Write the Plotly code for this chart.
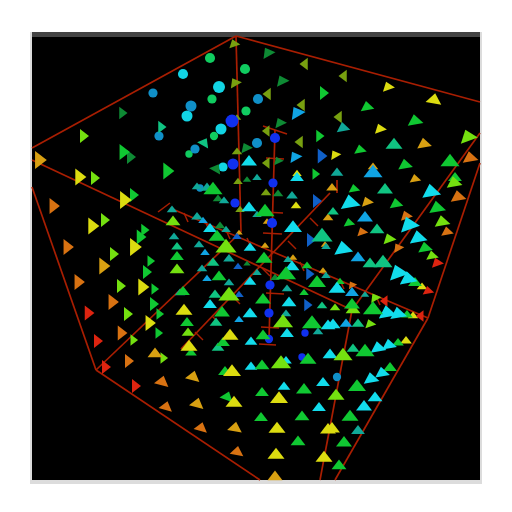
import plotly.graph_objects as go

# Marks: (x, y, size[, heading]) grouped by hue
red = [(88,313,14,90),(97,341,13,90),(105,367,13,90),(135,386,13,90),(437,263,12,-20),(428,291,11,-10),(385,301,11,-90),(421,316,11,-90)]
orange = [(53,206,15,90),(67,247,15,90),(78,282,15,90),(112,302,15,90),(121,333,14,90),(128,361,13,90),(162,382,14,15),(166,407,13,15),(201,428,13,15),(237,452,13,10),(470,158,15,-10),(458,197,15,-10),(406,216,12,-20),(447,232,12,-10),(362,232,11,-20),(398,248,11,-30),(352,285,9,-30)]
amber = [(39,160,17,90),(103,266,16,90),(193,377,14,15),(197,404,14,15),(155,354,14,0),(235,428,14,10),(424,144,14,-10),(373,167,10,0),(415,179,11,-10),(332,188,11),(367,202,12,-20),(293,258,8),(323,271,8),(325,245,8),(239,233,7),(267,222,8),(275,477,14),(265,246,8),(328,218,10)]
yellow = [(79,177,16,90),(92,226,16,90),(134,247,17,90),(142,287,16,90),(149,323,15,90),(189,347,16),(184,311,16),(232,372,17),(234,403,16),(279,399,17),(277,429,16),(276,455,16),(324,458,16),(328,430,15),(332,429,15),(434,100,15,10),(388,87,12,-20),(380,129,12,-20),(335,155,11,-30),(297,174,9),(296,206,10),(124,200,17,90),(230,336,16),(422,287,10),(413,316,10),(406,341,11)]
lime = [(83,136,13,90),(94,178,13,90),(104,220,13,90),(113,254,13,90),(120,286,13,90),(127,314,13,90),(133,340,11,90),(163,358,11,90),(468,137,17,-20),(173,222,14),(177,270,14),(226,248,20),(229,296,20),(281,364,19),(283,323,19),(343,356,18),(336,396,16),(442,222,15,-10),(432,256,12,-10),(454,183,15,-10),(389,239,13,-20),(375,298,11,-30),(353,310,14),(370,324,11,-20),(335,308,10),(188,333,12)]
green = [(123,152,15,90),(167,171,16,90),(133,195,13,90),(140,237,14,90),(144,230,12,90),(146,272,13,90),(150,261,11,90),(153,304,13,90),(154,289,11,90),(159,314,11,90),(158,333,11,90),(177,257,13),(183,292,13),(187,323,13),(191,353,11),(217,237,16),(219,277,14),(222,313,15),(213,190,18),(223,343,13),(225,372,13),(227,397,13,20),(263,336,14),(262,366,14),(262,393,13),(261,418,13),(304,293,9),(302,417,14),(298,442,14),(308,360,16),(304,390,15),(312,324,19),(286,275,19),(317,283,17),(264,259,16),(263,300,15),(265,212,18),(307,266,10),(319,136,12,90),(323,93,13,90),(367,107,13,-10),(415,121,15,-10),(360,150,12,-10),(405,165,14,-10),(450,162,18),(455,178,13),(354,189,11,-10),(396,204,13,-10),(437,208,16,-10),(349,223,11,-10),(425,248,14,-10),(415,283,13),(352,305,15),(373,310,19),(407,315,11),(398,343,11),(365,352,18),(390,368,13),(357,387,17),(350,417,16),(344,443,15),(339,466,14),(315,174,11,90),(340,282,9)]
deep_green = [(122,113,12,90),(130,157,13,90),(268,53,13,-30),(282,81,13,-25),(280,123,12,-25),(246,148,12,-25),(278,161,10,-25),(216,169,12,30),(218,199,10),(278,194,10),(220,226,10),(275,278,9),(247,180,8),(247,264,7)]
olive = [(344,76,12,-90),(305,64,12,-90),(339,117,12,-90),(268,94,12,-90),(302,105,12,-90),(300,142,12,-90),(267,131,11,-90),(267,163,11,-90),(237,152,10),(240,210,9),(238,182,9),(266,193,10),(237,118,8),(235,83,12,-30),(234,44,11,-20)]
teal_green = [(161,127,12,90),(204,143,12,30),(394,145,16),(385,190,15),(377,230,14),(370,264,14),(383,263,18),(353,349,12),(213,263,12),(215,295,12),(216,323,12),(218,348,12),(177,247,11),(358,324,12),(322,306,10),(333,212,11),(322,237,20)]
teal = [(172,210,10),(174,237,10),(180,293,10),(197,187,10),(207,188,12),(197,217,11),(199,245,10),(202,269,10),(229,259,11),(229,283,10),(226,230,9),(224,201,10),(257,178,9),(257,215,9),(257,273,9),(343,128,13,-10),(337,173,12,0),(292,196,11),(288,260,9),(286,314,10),(287,289,10),(326,276,9),(318,332,10),(365,295,8),(358,431,13),(326,247,9)]
cyan = [(249,162,15),(293,228,17),(249,208,14),(210,229,13),(250,248,12),(210,305,13),(250,282,12),(250,314,14),(297,178,13),(292,267,14),(289,303,14),(328,326,14),(287,334,13),(251,342,12),(251,367,12),(286,361,11),(284,387,12),(323,383,13),(319,408,13),(330,355,14),(350,203,19,-10),(343,249,18,-10),(409,225,19,-20),(418,238,17,-10),(398,273,19,-20),(408,279,17,-10),(431,192,18,-10),(337,289,16),(387,313,17,-10),(398,314,16,-10),(389,345,14,-10),(378,348,15,-10),(382,373,14,-10),(371,379,15,-10),(375,398,14),(364,407,15),(333,325,14)]
sky = [(373,173,18),(358,258,14),(365,218,15),(346,324,12),(352,293,13),(297,113,15,-30),(295,157,13,-30),(207,279,9),(239,320,9),(205,253,9),(203,221,9)]
blue = [(321,156,14,90),(316,201,13,90),(310,240,13,90),(309,274,12,90),(307,305,12,90),(237,237,9),(238,267,9),(239,295,9)]
round_cyan = [(183,74,11),(219,87,13),(187,116,12),(221,129,12),(223,167,10)]
round_green = [(210,58,11),(245,69,11),(212,99,10),(246,111,10),(214,136,9),(189,154,8)]
round_sky = [(153,93,10),(159,136,10),(191,106,12),(258,99,11),(257,143,11),(195,149,10),(200,188,8),(337,377,9)]
round_blue = [(232,121,14),(275,138,11),(233,164,12),(273,183,10),(272,223,11),(270,285,10),(269,313,10),(269,339,9),(235,203,10),(302,357,8),(305,333,8)]

groups = [
    (red, "#dd2410", "triangle-up"), (orange, "#d87212", "triangle-up"), (amber, "#d8a012", "triangle-up"),
    (yellow, "#dcdc10", "triangle-up"), (lime, "#74e010", "triangle-up"), (green, "#10c832", "triangle-up"),
    (deep_green, "#0e8a34", "triangle-up"), (olive, "#78a010", "triangle-up"), (teal_green, "#10c482", "triangle-up"),
    (teal, "#10a898", "triangle-up"), (cyan, "#12dcec", "triangle-up"), (sky, "#10a4e4", "triangle-up"),
    (blue, "#1060c8", "triangle-up"), (round_cyan, "#12d4e4", "circle"), (round_green, "#10cc60", "circle"),
    (round_sky, "#1090c8", "circle"), (round_blue, "#1030f0", "circle"),
]

# Wireframe edges
edge_x = [236,32,None,236,480,None,236,241,None,241,96,None,32,352,None,170,428,None,32,96,None,96,260,None,480,352,None,352,320,None,480,428,None,428,335,None,330,181,None,275,269,None,263,287,None,337,337]
edge_y = [36,148,None,36,102,None,36,232,None,232,370,None,160,310,None,208,318,None,187,370,None,370,480,None,133,310,None,310,480,None,163,318,None,318,480,None,193,349,None,130,340,None,126,134,None,180,193]
tick_x = [266,284,None,264,283,None,263,282,None,266,284,None,261,279,None,259,276,None,184,188,None,205,209,None,226,230,None,247,251,None,300,304,None,340,344,None,376,380,None,310,318,None,288,296,None,262,270,None,232,240,None,212,220,None,195,203,None,158,170]
tick_y = [158,159,None,212,213,None,233,234,None,293,294,None,327,328,None,344,345,None,213,222,None,221,230,None,230,239,None,238,247,None,262,271,None,280,289,None,296,305,None,218,226,None,241,249,None,268,276,None,296,304,None,316,324,None,332,340,None,212,203]

fig = go.Figure()
fig.add_shape(type="rect", x0=30, x1=482, y0=32, y1=484, fillcolor="#dcdcdc", line_width=0, layer="below")
fig.add_shape(type="rect", x0=32, x1=480, y0=32, y1=480, fillcolor="#000000", line_width=0, layer="below")
fig.add_shape(type="rect", x0=32, x1=480, y0=32, y1=37, fillcolor="#444444", line_width=0, layer="below")

fig.add_trace(go.Scatter(x=edge_x, y=edge_y, mode="lines", line=dict(color="#a81e02", width=1.7), hoverinfo="skip"))
fig.add_trace(go.Scatter(x=tick_x, y=tick_y, mode="lines", line=dict(color="#a81e02", width=1.5), hoverinfo="skip"))

marks = []
for rows, colour, symbol in groups:
    for r in rows:
        marks.append((r[0], r[1], r[2], r[3] if len(r) > 3 else 0, colour, symbol))
marks.sort(key=lambda m: m[2])

fig.add_trace(go.Scatter(
    x=[m[0] for m in marks], y=[m[1] for m in marks], mode="markers", hoverinfo="skip",
    marker=dict(size=[m[2] * 0.92 for m in marks], angle=[m[3] for m in marks], opacity=1,
                color=[m[4] for m in marks], symbol=[m[5] for m in marks], line_width=0),
))

# the page adds an 8px body margin, so the figure covers pixels 8..512
fig.update_layout(
    width=504, height=504, autosize=False, margin=dict(l=0, r=0, t=0, b=0),
    paper_bgcolor="#ffffff", plot_bgcolor="#ffffff", showlegend=False,
    xaxis=dict(range=[8, 512], visible=False, fixedrange=True),
    yaxis=dict(range=[512, 8], visible=False, fixedrange=True),
)
fig.write_html("out.html", config=dict(displayModeBar=False))
